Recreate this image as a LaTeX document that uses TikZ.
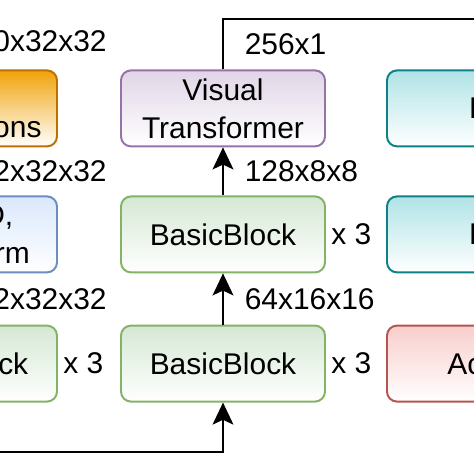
\documentclass[tikz,border=0pt]{standalone}
\usepackage{fontspec}
\setmainfont{Liberation Sans}
\usetikzlibrary{arrows.meta}

\definecolor{orangetop}{HTML}{F0A30A}
\definecolor{orangeline}{HTML}{BD7000}
\definecolor{bluetop}{HTML}{DAE8FC}
\definecolor{blueline}{HTML}{6C8EBF}
\definecolor{greentop}{HTML}{D5E8D4}
\definecolor{greenline}{HTML}{82B366}
\definecolor{purpletop}{HTML}{E1D5E7}
\definecolor{purpleline}{HTML}{9673A6}
\definecolor{tealtop}{HTML}{B0E3E6}
\definecolor{tealline}{HTML}{0E8088}
\definecolor{redtop}{HTML}{F8CECC}
\definecolor{redline}{HTML}{B85450}

\begin{document}
\begin{tikzpicture}[>={Stealth[length=0.55cm,width=0.52cm,inset=0.12cm]},
                     every node/.style={font=\fontsize{21.3}{27}\selectfont},
                     box/.style={rounded corners=0.25cm,line width=1.4pt,
                       minimum width=5.1cm,minimum height=1.9cm,
                       align=center,inner sep=0pt},
                     orangebox/.style={box,draw=orangeline,top color=orangetop,bottom color=white},
                     bluebox/.style={box,draw=blueline,top color=bluetop,bottom color=white},
                     greenbox/.style={box,draw=greenline,top color=greentop,bottom color=white},
                     purplebox/.style={box,draw=purpleline,top color=purpletop,bottom color=white},
                     tealbox/.style={box,draw=tealline,top color=tealtop,bottom color=white},
                     redbox/.style={box,draw=redline,top color=redtop,bottom color=white},
                     lbl/.style={right=0.52cm,inner sep=0pt},
                     rep/.style={right=0.13cm,inner sep=0pt},
                     wire/.style={line width=1.4pt}]
                     \useasboundingbox (0,0) rectangle (11.85,11.85);
                     \clip (0,0) rectangle (11.85,11.85);
                     % left column
                     \node[orangebox] (conv) at (-1.125,9.14) {Input\\Convolutions};
                     \node[bluebox] (stem) at (-1.125,5.99) {Conv2D,\\BatchNorm};
                     \node[greenbox] (block0) at (-1.125,2.76) {BasicBlock};
                     % middle column
                     \node[greenbox] (block1) at (5.575,2.76) {BasicBlock};
                     \node[greenbox] (block2) at (5.575,5.99) {BasicBlock};
                     \node[purplebox] (vit) at (5.575,9.14) {Visual\\Transformer};
                     % right column
                     \node[tealbox] (fc1) at (12.225,9.14) {FC};
                     \node[tealbox] (fc2) at (12.225,5.99) {FC};
                     \node[redbox] (act) at (12.225,2.76) {Action};
                     \node[rep] (rep0) at (block0.east) {x 3};
                     \node[rep] (rep1) at (block1.east) {x 3};
                     \node[rep] (rep2) at (block2.east) {x 3};
                     % connectors
                     \coordinate (src) at (-1.125,11.51);
                     \coordinate (low) at (5.575,0.55);
                     \coordinate (high) at (5.575,11.375);
                     \draw[wire,->] (src) -- node[lbl]{10x32x32} (conv.north);
                     \draw[wire,->] (conv.south) -- node[lbl]{32x32x32} (stem.north);
                     \draw[wire,->] (stem.south) -- node[lbl]{32x32x32} (block0.north);
                     \draw[wire,->] (block0.south) |- (low) -- (block1.south);
                     \draw[wire,->] (block1.north) -- node[lbl]{64x16x16} (block2.south);
                     \draw[wire,->] (block2.north) -- node[lbl]{128x8x8} (vit.south);
                     \draw[wire,->] (vit.north) -- node[lbl]{256x1} (high) -| (fc1.north);
                   \end{tikzpicture}
\end{document}
